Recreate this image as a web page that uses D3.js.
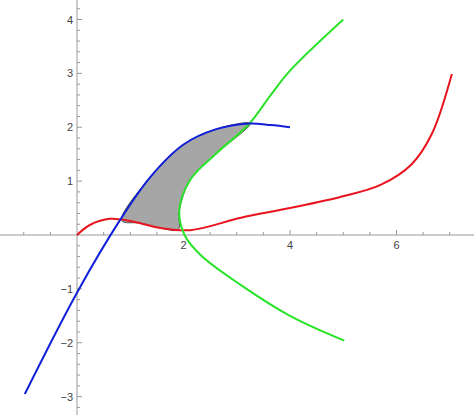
<!DOCTYPE html>
<html><head><meta charset="utf-8">
<script src="https://cdn.jsdelivr.net/npm/d3@7"></script>
<style>body{margin:0;background:#fff}</style>
</head><body>
<svg id="chart" width="474" height="415"></svg>
<script>
const blue = [[-0.98,-2.95],[0,-1.07],[0.81,0.28],[1.38,1.08],[2,1.68],[2.6,1.96],[3.23,2.07],[3.64,2.04],[4,2.0]]
const green = [[5.02,-1.96],[4,-1.5],[3.08,-0.93],[2.32,-0.37],[2.02,0],[1.92,0.45],[2.13,1.03],[2.6,1.5],[3.23,2.06],[3.64,2.6],[4,3.05],[5,4.0]]
const red = [[0,0],[0.25,0.19],[0.62,0.3],[1,0.26],[1.57,0.13],[2.13,0.09],[3.08,0.32],[4,0.5],[4.96,0.71],[5.7,0.93],[6.28,1.31],[6.66,1.87],[7.04,2.99]]
const region = [[0.84,0.27],[1.38,1.08],[2,1.68],[2.6,1.96],[3.25,2.07],[2.6,1.5],[2.13,1.03],[1.92,0.45],[1.9,0.1],[1.57,0.13],[1.2,0.22]]
const xTicks = [2, 4, 6]
const yTicks = [-3, -2, -1, 1, 2, 3, 4]

const svg = d3.select('#chart')
const x = d3.scaleLinear().domain([0, 4]).range([77, 290])
const y = d3.scaleLinear().domain([0, 4]).range([235, 19.5])

const line = d3.line().x(d => x(d[0])).y(d => y(d[1])).curve(d3.curveCatmullRom)

svg.append('path').datum(region)
  .attr('d', d3.line().x(d => x(d[0])).y(d => y(d[1])).curve(d3.curveCatmullRomClosed)(region))
  .attr('fill', '#a6a6a6').attr('stroke', '#333').attr('stroke-width', 0.8)

const axisColor = '#999'
const ax = svg.append('g').attr('class', 'axes')
ax.append('line').attr('x1', 0).attr('x2', 474).attr('y1', y(0)).attr('y2', y(0)).attr('stroke', axisColor)
ax.append('line').attr('x1', x(0)).attr('x2', x(0)).attr('y1', 0).attr('y2', 415).attr('stroke', axisColor)

d3.range(-1, 7.6, 0.5).forEach(v => {
  if (v === 0) return
  let major = xTicks.includes(v)
  ax.append('line').attr('x1', x(v)).attr('x2', x(v)).attr('y1', y(0)).attr('y2', y(0) - (major ? 5 : 3)).attr('stroke', axisColor)
})
d3.range(-3.4, 4.5, 0.2).forEach(v => {
  v = Math.round(v * 10) / 10
  if (v === 0) return
  let major = yTicks.includes(v)
  ax.append('line').attr('x1', x(0)).attr('x2', x(0) + (major ? 5 : 3)).attr('y1', y(v)).attr('y2', y(v)).attr('stroke', axisColor)
})
xTicks.forEach(v => ax.append('text').attr('x', x(v)).attr('y', y(0) + 14).attr('text-anchor', 'middle')
  .attr('font-family', 'Liberation Sans, sans-serif').attr('font-size', 11).attr('fill', '#444').text(v))
yTicks.forEach(v => ax.append('text').attr('x', x(0) - 4).attr('y', y(v) + 4).attr('text-anchor', 'end')
  .attr('font-family', 'Liberation Sans, sans-serif').attr('font-size', 11).attr('fill', '#444').text(v < 0 ? '\u2212' + (-v) : v))

svg.append('path').attr('d', line(red)).attr('fill', 'none').attr('stroke', '#e8141e').attr('stroke-width', 2)
svg.append('path').attr('d', line(green)).attr('fill', 'none').attr('stroke', '#29e329').attr('stroke-width', 2)
svg.append('path').attr('d', line(blue)).attr('fill', 'none').attr('stroke', '#1020d8').attr('stroke-width', 2)
</script>
</body></html>
